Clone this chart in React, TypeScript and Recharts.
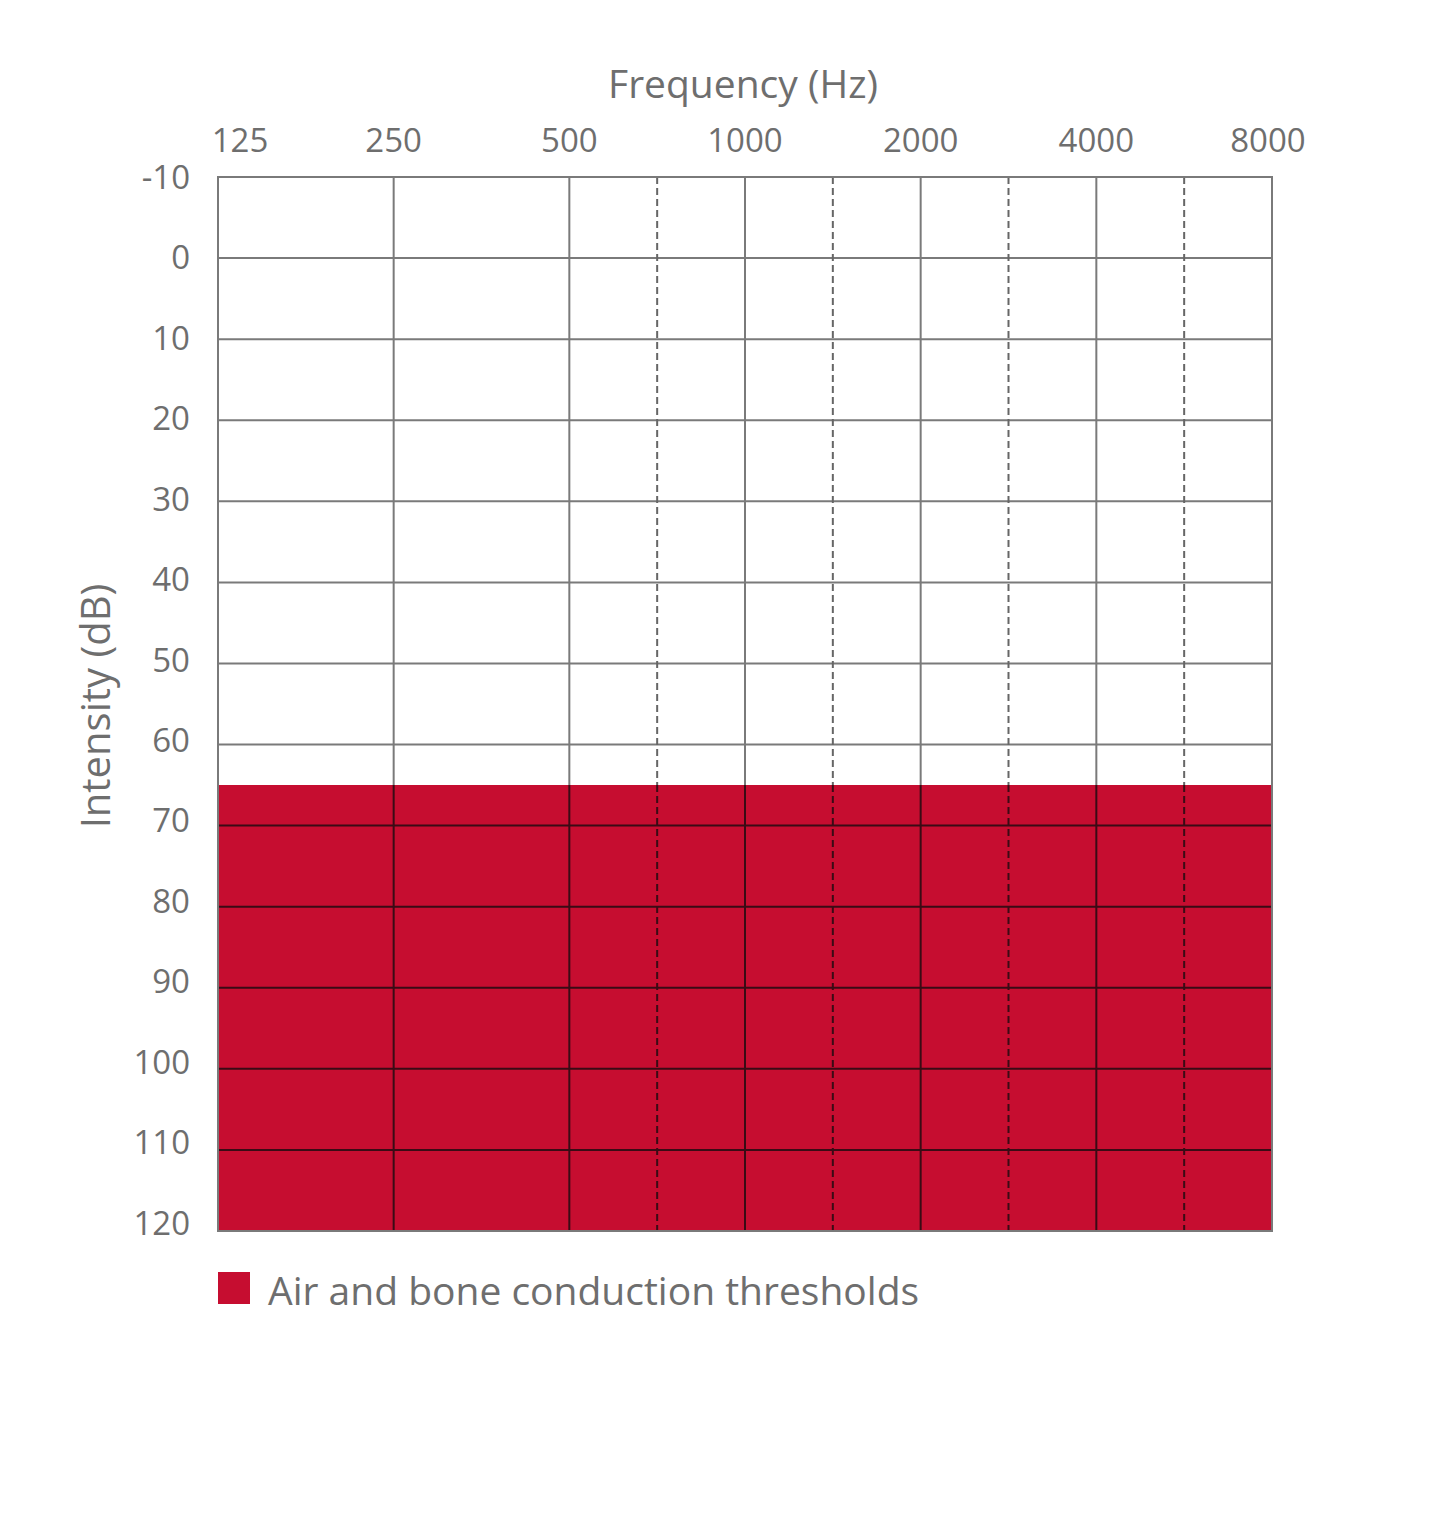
import React from 'react';
import {
  ComposedChart,
  Area,
  XAxis,
  YAxis,
  CartesianGrid,
  ReferenceLine,
  ReferenceArea,
  Legend,
} from 'recharts';

const FREQUENCY_LABELS = ['125', '250', '500', '1000', '2000', '4000', '8000'];
const FREQUENCY_INDEX = [0, 1, 2, 3, 4, 5, 6];
const HALF_OCTAVE_INDEX = [2.5, 3.5, 4.5, 5.5];
const THRESHOLD_DB = [65, 65, 65, 65, 65, 65, 65];
const INTENSITY_TICKS = [-10, 0, 10, 20, 30, 40, 50, 60, 70, 80, 90, 100, 110, 120];
const SERIES_NAME = 'Air and bone conduction thresholds';

const Y_MIN = -10;
const Y_MAX = 120;

const FONT = '"Open Sans", "Noto Sans", sans-serif';
const TEXT_COLOR = '#6e6e6e';
const GRID_GRAY = '#7a7a7a';
const GRID_DARK = '#3a0b15';
const FILL_RED = '#c60d30';

const data = FREQUENCY_INDEX.map((x, i) => ({ x, threshold: THRESHOLD_DB[i] }));

// threshold at a position between two frequencies (straight line between the points)
const thresholdAt = (x: number) => {
  const i = Math.min(Math.floor(x), FREQUENCY_INDEX.length - 2);
  const t = x - i;
  return THRESHOLD_DB[i] * (1 - t) + THRESHOLD_DB[i + 1] * t;
};

const XTick = (props: any) => {
  const { x, y, payload, index } = props;
  const shift = index === 0 ? 22 : index === FREQUENCY_LABELS.length - 1 ? -4 : 0;
  return (
    <text
      x={x + shift}
      y={y}
      textAnchor="middle"
      fontFamily={FONT}
      fontSize={33}
      fill={TEXT_COLOR}
    >
      {FREQUENCY_LABELS[payload.value]}
    </text>
  );
};

const YTick = (props: any) => {
  const { x, y, payload, index } = props;
  return (
    <text
      x={x}
      y={y - index * 0.65}
      dy={12}
      textAnchor="end"
      fontFamily={FONT}
      fontSize={33}
      fill={TEXT_COLOR}
    >
      {payload.value}
    </text>
  );
};

const XLabel = (props: any) => {
  const vb = props.viewBox || {};
  return (
    <text
      x={vb.x + vb.width / 2 - 2}
      y={vb.y + vb.height - 79}
      textAnchor="middle"
      fontFamily={FONT}
      fontSize={39}
      fill={TEXT_COLOR}
    >
      Frequency (Hz)
    </text>
  );
};

const YLabel = (props: any) => {
  const vb = props.viewBox || {};
  const x = vb.x + vb.width - 108;
  const y = vb.y + vb.height / 2 + 2;
  return (
    <text
      x={x}
      y={y}
      transform={`rotate(-90, ${x}, ${y})`}
      textAnchor="middle"
      fontFamily={FONT}
      fontSize={40}
      fill={TEXT_COLOR}
    >
      Intensity (dB)
    </text>
  );
};

const LegendContent = (props: any) => {
  const payload = props.payload || [];
  return (
    <div>
      {payload.map((entry: any) => (
        <svg key={entry.value} width={760} height={64} style={{ display: 'block', overflow: 'visible' }}>
          <rect x={0} y={4} width={32} height={32} fill={FILL_RED} />
          <text x={50} y={37} fontFamily={FONT} fontSize={39} fill={TEXT_COLOR}>
            {entry.value}
          </text>
        </svg>
      ))}
    </div>
  );
};

export default function App() {
  const innerVertical = FREQUENCY_INDEX.filter((v) => v > 0 && v < 6);
  const darkHorizontal = INTENSITY_TICKS.filter(
    (v) => v > Math.max(...THRESHOLD_DB) && v < Y_MAX,
  );

  return (
    <div style={{ position: 'absolute', left: 0, top: 0, width: 1445, height: 1536, background: '#fff' }}>
      <ComposedChart
        width={1445}
        height={1536}
        data={data}
        margin={{ top: 117, right: 173, bottom: 305, left: 138 }}
        style={{ fontFamily: FONT }}
      >
        <CartesianGrid stroke={GRID_GRAY} strokeWidth={2} />
        <XAxis
          type="number"
          dataKey="x"
          orientation="top"
          domain={[0, 6]}
          ticks={FREQUENCY_INDEX}
          interval={0}
          height={60}
          axisLine={false}
          tickLine={false}
          tickSize={0}
          tickMargin={25}
          tick={<XTick />}
          label={{ content: XLabel }}
          allowDataOverflow
        />
        <YAxis
          type="number"
          domain={[Y_MIN, Y_MAX]}
          reversed
          ticks={INTENSITY_TICKS}
          interval={0}
          width={80}
          axisLine={false}
          tickLine={false}
          tickSize={0}
          tickMargin={28}
          tick={<YTick />}
          label={{ content: YLabel }}
          allowDataOverflow
        />
        <Area
          type="linear"
          dataKey="threshold"
          name={SERIES_NAME}
          baseValue={Y_MAX}
          fill={FILL_RED}
          fillOpacity={1}
          stroke="none"
          dot={false}
          activeDot={false}
          isAnimationActive={false}
          legendType="square"
        />
        {/* dashed half-octave lines above the threshold */}
        {HALF_OCTAVE_INDEX.map((x) => (
          <ReferenceLine
            key={`dg-${x}`}
            segment={[{ x, y: Y_MIN }, { x, y: thresholdAt(x) }]}
            stroke="#666"
            strokeWidth={2}
            strokeDasharray="7 4"
            zIndex={600}
          />
        ))}
        {/* grid lines inside the filled region */}
        {darkHorizontal.map((y) => (
          <ReferenceLine key={`hd-${y}`} y={y} stroke={GRID_DARK} strokeWidth={2} zIndex={600} />
        ))}
        {innerVertical.map((x) => (
          <ReferenceLine
            key={`vd-${x}`}
            segment={[{ x, y: thresholdAt(x) }, { x, y: Y_MAX }]}
            stroke={GRID_DARK}
            strokeWidth={2}
            zIndex={600}
          />
        ))}
        {HALF_OCTAVE_INDEX.map((x) => (
          <ReferenceLine
            key={`dd-${x}`}
            segment={[{ x, y: thresholdAt(x) }, { x, y: Y_MAX }]}
            stroke={GRID_DARK}
            strokeWidth={2}
            strokeDasharray="7 4"
            zIndex={600}
          />
        ))}
        <ReferenceArea
          x1={0}
          x2={6}
          y1={Y_MIN}
          y2={Y_MAX}
          fill="none"
          fillOpacity={0}
          stroke={GRID_GRAY}
          strokeWidth={2}
          zIndex={700}
        />
        <Legend
          layout="horizontal"
          verticalAlign="middle"
          align="center"
          content={LegendContent}
          wrapperStyle={{ position: 'absolute', top: 1268, left: 218, width: 760, height: 64 }}
        />
      </ComposedChart>
    </div>
  );
}
